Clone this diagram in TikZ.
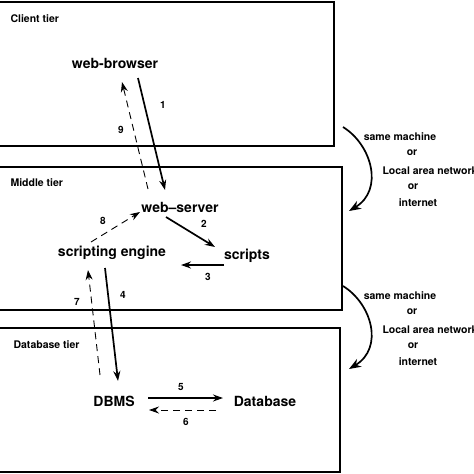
\documentclass[tikz,border=0pt]{standalone}
\usepackage{fontspec}
\setmainfont{TeX Gyre Heros}
\usetikzlibrary{arrows.meta}

\tikzset{
  tier/.style={line width=2.4pt},
  tierlabel/.style={anchor=west,font=\fontsize{10.5}{12}\selectfont\bfseries},
  part/.style={font=\fontsize{14}{16}\selectfont\bfseries},
  num/.style={font=\fontsize{10}{12}\selectfont\bfseries},
  link/.style={font=\fontsize{10.5}{12}\selectfont\bfseries},
  call/.style={line width=1.7pt,-{Stealth[length=10pt,width=7pt]}},
  reply/.style={line width=0.9pt,dash pattern=on 7pt off 5pt,
    -{Stealth[length=10pt,width=7pt]}},
  hop/.style={line width=1.7pt,-{Stealth[length=12pt,width=9pt]}}
}

\begin{document}
\begin{tikzpicture}[x=1pt,y=-1pt]
  \clip (0,0) rectangle (474,474);

  % Рамки уровней
  \draw[tier] (-5,2)   rectangle (334,146);
  \draw[tier] (-5,167) rectangle (342,310);
  \draw[tier] (-5,328) rectangle (340,472);

  \node[tierlabel] (client) at (7,19)   {Client tier};
  \node[tierlabel] (middle) at (7,183)  {Middle tier};
  \node[tierlabel] (dbtier) at (10,345) {Database tier};

  % Компоненты
  \node[part] (browser) at (115,63)  {web-browser};
  \node[part] (server)  at (180,207) {web--server};
  \node[part] (scripts) at (247,256) {scripts};
  \node[part] (engine)  at (112,253) {scripting engine};
  \node[part] (dbms)    at (114,401) {DBMS};
  \node[part] (db)      at (265,401) {Database};

  % Концы стрелок
  \coordinate (b1) at (138,78);  \coordinate (s1) at (165,190);
  \coordinate (s9) at (148,189); \coordinate (b9) at (122,82);
  \coordinate (s2) at (166,217); \coordinate (c2) at (215,247);
  \coordinate (c3) at (224,265); \coordinate (e3) at (181,265);
  \coordinate (e8) at (91,242);  \coordinate (s8) at (140,212);
  \coordinate (e4) at (105,268); \coordinate (d4) at (118,381);
  \coordinate (d7) at (100,375); \coordinate (e7) at (88,270);
  \coordinate (d5) at (148,398); \coordinate (t5) at (223,398);
  \coordinate (t6) at (216,410); \coordinate (d6) at (149,410);

  % Запросы
  \draw[call]  (b1) -- (s1);
  \draw[call]  (s2) -- (c2);
  \draw[call]  (c3) -- (e3);
  \draw[call]  (e4) -- (d4);
  \draw[call]  (d5) -- (t5);

  % Ответы
  \draw[reply] (t6) -- (d6);
  \draw[reply] (d7) -- (e7);
  \draw[reply] (e8) -- (s8);
  \draw[reply] (s9) -- (b9);

  \node[num] (n1) at (163,105) {1};
  \node[num] (n2) at (204,224) {2};
  \node[num] (n3) at (208,277) {3};
  \node[num] (n4) at (123,295) {4};
  \node[num] (n5) at (181,387) {5};
  \node[num] (n6) at (186,422) {6};
  \node[num] (n7) at (77,302)  {7};
  \node[num] (n8) at (103,221) {8};
  \node[num] (n9) at (121,130) {9};

  % Связь между уровнями
  \coordinate (h1a) at (343,127); \coordinate (h1b) at (349,211);
  \coordinate (h2a) at (343,286); \coordinate (h2b) at (349,369);
  \draw[hop] (h1a) .. controls (372,145) and (384,190) .. (h1b);
  \draw[hop] (h2a) .. controls (372,304) and (384,348) .. (h2b);

  \foreach \y/\name in {0/top,159/bot} {
    \node[link] (same\name)  at (400,137+\y) {same machine};
    \node[link] (ora\name)   at (412,153+\y) {or};
    \node[link,anchor=west] (lan\name) at (379,171+\y) {Local area network};
    \node[link] (orb\name)   at (413,187+\y) {or};
    \node[link] (inet\name)  at (418,203+\y) {internet};
  }
\end{tikzpicture}
\end{document}
